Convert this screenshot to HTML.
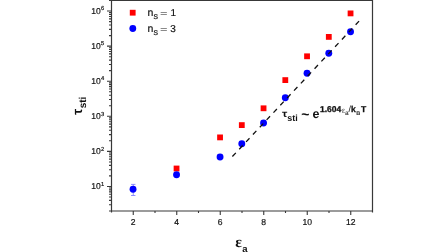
<!DOCTYPE html><html><head><meta charset="utf-8"><style>html,body{margin:0;padding:0;background:#fff;width:448px;height:252px;overflow:hidden}svg{display:block;font-family:"Liberation Sans",Arial,sans-serif;text-rendering:geometricPrecision}text{stroke:#111;stroke-width:.18px}.b text,text.b{stroke:none}</style></head><body>
<svg width="448" height="252" viewBox="0 0 448 252" fill="#111">
<path d="M111.5 212.5V0.5H372.5V212.5M111.5 211.0H372.5" fill="none" stroke="#383838" stroke-width="1.2"/>
<path d="M133.25 211.0V215.0 M155.00 211.0V213.0 M176.75 211.0V215.0 M198.50 211.0V213.0 M220.25 211.0V215.0 M242.00 211.0V213.0 M263.75 211.0V215.0 M285.50 211.0V213.0 M307.25 211.0V215.0 M329.00 211.0V213.0 M350.75 211.0V215.0 M111.5 210.98H109.0 M111.5 204.80H109.0 M111.5 200.42H109.0 M111.5 197.02H109.0 M111.5 194.24H109.0 M111.5 191.89H109.0 M111.5 189.86H109.0 M111.5 188.07H109.0 M111.5 186.46H107.0 M111.5 175.90H109.0 M111.5 169.72H109.0 M111.5 165.34H109.0 M111.5 161.94H109.0 M111.5 159.16H109.0 M111.5 156.81H109.0 M111.5 154.78H109.0 M111.5 152.99H109.0 M111.5 151.38H107.0 M111.5 140.82H109.0 M111.5 134.64H109.0 M111.5 130.26H109.0 M111.5 126.86H109.0 M111.5 124.08H109.0 M111.5 121.73H109.0 M111.5 119.70H109.0 M111.5 117.91H109.0 M111.5 116.30H107.0 M111.5 105.74H109.0 M111.5 99.56H109.0 M111.5 95.18H109.0 M111.5 91.78H109.0 M111.5 89.00H109.0 M111.5 86.65H109.0 M111.5 84.62H109.0 M111.5 82.83H109.0 M111.5 81.22H107.0 M111.5 70.66H109.0 M111.5 64.48H109.0 M111.5 60.10H109.0 M111.5 56.70H109.0 M111.5 53.92H109.0 M111.5 51.57H109.0 M111.5 49.54H109.0 M111.5 47.75H109.0 M111.5 46.14H107.0 M111.5 35.58H109.0 M111.5 29.40H109.0 M111.5 25.02H109.0 M111.5 21.62H109.0 M111.5 18.84H109.0 M111.5 16.49H109.0 M111.5 14.46H109.0 M111.5 12.67H109.0 M111.5 11.06H107.0 M111.5 0.50H109.0" stroke="#383838" stroke-width="1.1" fill="none"/>
<text x="133.25" y="224.6" font-size="8.6" text-anchor="middle">2</text>
<text x="176.75" y="224.6" font-size="8.6" text-anchor="middle">4</text>
<text x="220.25" y="224.6" font-size="8.6" text-anchor="middle">6</text>
<text x="263.75" y="224.6" font-size="8.6" text-anchor="middle">8</text>
<text x="307.25" y="224.6" font-size="8.6" text-anchor="middle">10</text>
<text x="350.75" y="224.6" font-size="8.6" text-anchor="middle">12</text>
<text x="100.8" y="189.26" font-size="8.5" text-anchor="end">10</text>
<text x="100.9" y="185.66" font-size="5.8">1</text>
<text x="100.8" y="154.18" font-size="8.5" text-anchor="end">10</text>
<text x="100.9" y="150.58" font-size="5.8">2</text>
<text x="100.8" y="119.10" font-size="8.5" text-anchor="end">10</text>
<text x="100.9" y="115.50" font-size="5.8">3</text>
<text x="100.8" y="84.02" font-size="8.5" text-anchor="end">10</text>
<text x="100.9" y="80.42" font-size="5.8">4</text>
<text x="100.8" y="48.94" font-size="8.5" text-anchor="end">10</text>
<text x="100.9" y="45.34" font-size="5.8">5</text>
<text x="100.8" y="13.86" font-size="8.5" text-anchor="end">10</text>
<text x="100.9" y="10.26" font-size="5.8">6</text>
<rect x="173.65" y="165.60" width="5.8" height="5.8" fill="#ff0000"/>
<rect x="217.15" y="134.50" width="5.8" height="5.8" fill="#ff0000"/>
<rect x="238.90" y="122.20" width="5.8" height="5.8" fill="#ff0000"/>
<rect x="260.65" y="105.40" width="5.8" height="5.8" fill="#ff0000"/>
<rect x="282.40" y="77.20" width="5.8" height="5.8" fill="#ff0000"/>
<rect x="304.15" y="53.40" width="5.8" height="5.8" fill="#ff0000"/>
<rect x="325.90" y="34.00" width="5.8" height="5.8" fill="#ff0000"/>
<rect x="347.65" y="10.50" width="5.8" height="5.8" fill="#ff0000"/>
<path d="M133.25 184.4V195.5M131.05 184.4H135.45M131.05 195.5H135.45" stroke="#7d7dff" stroke-width="0.85" fill="none"/>
<circle cx="133.05" cy="189.20" r="3.45" fill="#0000ff"/>
<circle cx="176.55" cy="174.70" r="3.45" fill="#0000ff"/>
<circle cx="220.05" cy="157.00" r="3.45" fill="#0000ff"/>
<circle cx="241.80" cy="143.70" r="3.45" fill="#0000ff"/>
<circle cx="263.55" cy="123.00" r="3.45" fill="#0000ff"/>
<circle cx="285.30" cy="97.70" r="3.45" fill="#0000ff"/>
<circle cx="307.05" cy="73.20" r="3.45" fill="#0000ff"/>
<circle cx="328.80" cy="53.20" r="3.45" fill="#0000ff"/>
<circle cx="350.55" cy="31.70" r="3.45" fill="#0000ff"/>
<line x1="232.4" y1="156.5" x2="359.1" y2="21.1" stroke="#111" stroke-width="1.3" stroke-dasharray="5 5.02"/>
<rect x="129.8" y="9.8" width="5.8" height="5.8" fill="#ff0000"/>
<circle cx="132.8" cy="28.5" r="3.4" fill="#0000ff"/>
<text x="147.6" y="16.4" font-size="10.5">n</text>
<text x="153.4" y="19.2" font-size="9">s</text>
<text transform="translate(160.2,15.6) scale(1.05,0.62)" font-size="11.5">=</text>
<text x="170.6" y="16.2" font-size="10">1</text>
<text x="147.6" y="32.3" font-size="10.5">n</text>
<text x="153.4" y="35.1" font-size="9">s</text>
<text transform="translate(160.2,31.5) scale(1.05,0.62)" font-size="11.5">=</text>
<text x="170.2" y="32.3" font-size="10">3</text>
<g font-weight="bold" class="b">
<text transform="translate(281.9,117.4) scale(1.2,1)" font-size="10">&#964;</text>
<text x="287.35" y="121.3" font-size="9">sti</text>
<text x="301.3" y="119.2" font-size="14">~</text>
<text x="312.5" y="117.9" font-size="12.5">e</text>
<text x="320.0" y="111.9" font-size="8.5" style="stroke:#111;stroke-width:.3px">1.604</text>
<text x="348.6" y="112.4" font-size="9" font-weight="normal">/</text>
<text x="351.1" y="112.2" font-size="8.5" style="stroke:#111;stroke-width:.3px">k</text>
<text x="356.3" y="115" font-size="5.5">B</text>
<text x="361" y="112.1" font-size="8.5" style="stroke:#111;stroke-width:.3px">T</text>
</g>
<text x="341.8" y="112.9" font-size="8" fill="#666" style="stroke:none">&#949;</text>
<text x="345.0" y="114.7" font-size="6.5" font-weight="bold" fill="#444" style="stroke:none">a</text>
<text x="235.2" y="247.0" font-size="15.5" font-weight="bold" font-family="Liberation Serif" class="b">&#949;</text>
<text x="242.25" y="251.9" font-size="9.5" font-weight="bold" class="b">a</text>
<text transform="translate(82.3,114.8) rotate(-90)" font-size="13.5" font-weight="bold" class="b">&#964;</text>
<text transform="translate(86.2,108.3) rotate(-90)" font-size="10" font-weight="bold" class="b">sti</text>
</svg></body></html>
